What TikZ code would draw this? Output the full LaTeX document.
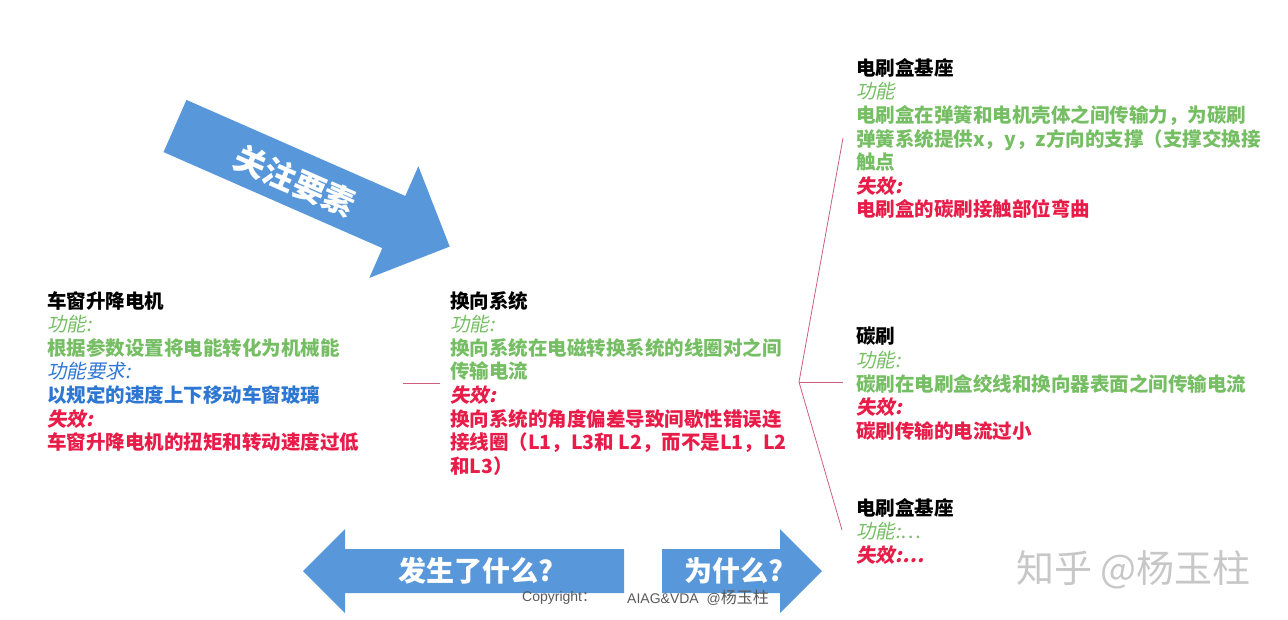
\documentclass[tikz,border=0pt]{standalone}
\usepackage{fontspec}
\setmainfont{Noto Sans CJK SC}
\newfontfamily\slantcjk{Noto Sans CJK SC}[FakeSlant=0.2]
\newfontfamily\latinsans{Liberation Sans}

\definecolor{arrowblue}{RGB}{88,152,218}
\definecolor{fgreen}{RGB}{118,190,100}
\definecolor{fblue}{RGB}{45,118,210}
\definecolor{fred}{RGB}{232,28,72}
\definecolor{linkpink}{RGB}{205,95,125}

\newcommand\gtag[1]{{\slantcjk\mdseries\color{fgreen}#1}}
\newcommand\btag[1]{{\slantcjk\mdseries\color{fblue}#1}}
\newcommand\rtag[1]{{\slantcjk\bfseries\color{fred}#1}}

\begin{document}
\begin{tikzpicture}[x=1pt, y=-1pt,
  block/.style={anchor=north west, inner sep=0pt, align=left, font=\bfseries\fontsize{19.5}{23.6}\selectfont},
  link/.style={draw=linkpink, line width=0.8pt},
  bigarrow/.style={fill=arrowblue},
  arrowtext/.style={text=white, inner sep=0pt, font=\bfseries\fontsize{28}{28}\selectfont},
  credit/.style={anchor=west, inner sep=0pt, text=black!65, font=\fontsize{14}{14}\selectfont}]

\useasboundingbox (0,0) rectangle (1288,619);

% blue arrows
\begin{scope}[shift={(175,126)}, rotate=-23.7]
\fill [bigarrow] (0,-28.5) -- (239,-28.5) -- (239,-61) -- (300,0) -- (239,61) -- (239,28.5) -- (0,28.5) -- cycle;
\node [arrowtext, font=\bfseries\fontsize{32}{32}\selectfont, rotate=-23.7] (focus) at (132,2) {关注要素};
\end{scope}

\fill [bigarrow] (303,571) -- (345,529) -- (345,549) -- (624,549) -- (624,593) -- (345,593) -- (345,613) -- cycle;
\fill [bigarrow] (662,549) -- (780,549) -- (780,529) -- (822,571) -- (780,613) -- (780,593) -- (662,593) -- cycle;

\node [arrowtext] (what) at (476,571) {发生了什么?};
\node [arrowtext] (why) at (734,571) {为什么?};

% text blocks
\node [block] (motor) at (47,291) {%
车窗升降电机\\
\gtag{功能:}\\
{\color{fgreen}根据参数设置将电能转化为机械能}\\
\btag{功能要求:}\\
{\color{fblue}以规定的速度上下移动车窗玻璃}\\
\rtag{失效:}\\
{\color{fred}车窗升降电机的扭矩和转动速度过低}};

\node [block] (commutator) at (450,291) {%
换向系统\\
\gtag{功能:}\\
{\color{fgreen}换向系统在电磁转换系统的线圈对之间}\\
{\color{fgreen}传输电流}\\
\rtag{失效:}\\
{\color{fred}换向系统的角度偏差导致间歇性错误连}\\
{\color{fred}接线圈（L1，L3和 L2，而不是L1，L2}\\
{\color{fred}和L3）}};

\node [block] (holder) at (856,58) {%
电刷盒基座\\
\gtag{功能}\\
{\color{fgreen}电刷盒在弹簧和电机壳体之间传输力，为碳刷}\\
{\color{fgreen}弹簧系统提供x，y，z方向的支撑（支撑交换接}\\
{\color{fgreen}触点}\\
\rtag{失效:}\\
{\color{fred}电刷盒的碳刷接触部位弯曲}};

\node [block] (brush) at (856,327) {%
碳刷\\
\gtag{功能:}\\
{\color{fgreen}碳刷在电刷盒绞线和换向器表面之间传输电流}\\
\rtag{失效:}\\
{\color{fred}碳刷传输的电流过小}};

\node [block] (holder2) at (856,498) {%
电刷盒基座\\
\gtag{功能:}{\mdseries\color{fgreen}…}\\
\rtag{失效:…}};

% connectors
\coordinate (lead) at (403,383);
\coordinate (lead end) at (440,383);
\coordinate (hub) at (799,382);
\coordinate (holder end) at (843,138);
\coordinate (brush end) at (843,382);
\coordinate (holder2 end) at (842,530);

\draw [link] (lead) -- (lead end);
\draw [link] (holder end) -- (hub) -- (holder2 end);
\draw [link] (hub) -- (brush end);

% credits
\node [credit] (copy) at (522,598) {{\latinsans Copyright}：};
\node [credit] (owner) at (627,598) {{\latinsans AIAG\&VDA\ \ @}{\fontsize{16}{16}\selectfont 杨玉柱}};
\node [anchor=west, inner sep=0pt, text=black!22, font=\fontsize{38}{38}\selectfont] (mark) at (1016,570) {知乎 @杨玉柱};

\end{tikzpicture}
\end{document}
